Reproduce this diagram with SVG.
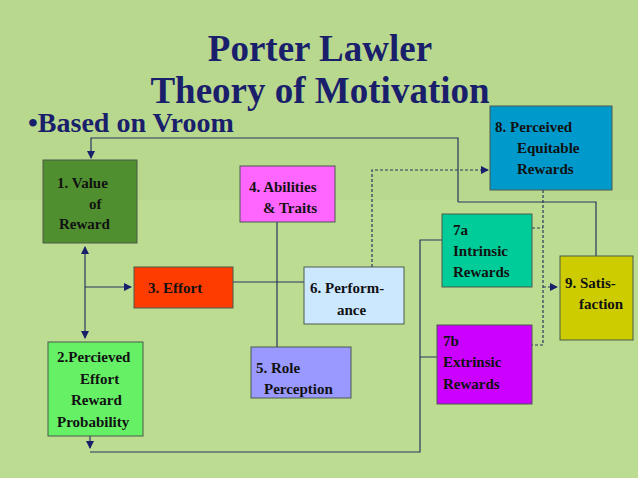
<svg xmlns="http://www.w3.org/2000/svg" width="638" height="478" viewBox="0 0 638 478">
<style>
.t{font-family:"Liberation Serif",serif;font-weight:bold;fill:#1a1f6b}
.n{font-family:"Liberation Serif",serif;font-weight:bold;font-size:15px;fill:#111}
.b{stroke:#4a5a4a;stroke-width:1}
.c{fill:none;stroke:#2a3560;stroke-width:1.2}
.d{fill:none;stroke:#2a3560;stroke-width:1.2;stroke-dasharray:3,2}
</style>
<defs><marker id="a" viewBox="0 0 8 8" refX="7" refY="4" markerWidth="7" markerHeight="7" orient="auto-start-reverse"><path d="M0,0L8,4L0,8z" fill="#1a1f6b"/></marker></defs>
<rect width="638" height="478" fill="#bcdc92"/>
<rect width="638" height="200" fill="#b8d88e"/>
<text class="t" x="320" y="61" font-size="37" text-anchor="middle">Porter Lawler</text>
<text class="t" x="320" y="103" font-size="37" text-anchor="middle">Theory of Motivation</text>
<text class="t" x="28" y="132" font-size="28">•Based on Vroom</text>
<g id="connectors">
<path class="c" d="M458,202V138H91V158" marker-end="url(#a)"/>
<path class="c" d="M458,202H596V256"/>
<path class="c" d="M85,287V247" marker-end="url(#a)"/>
<path class="c" d="M85,287V338" marker-end="url(#a)"/>
<path class="c" d="M85,287H131" marker-end="url(#a)"/>
<path class="c" d="M233,282H304"/>
<path class="c" d="M277,222V347"/>
<path class="d" d="M372,267V170H488" marker-end="url(#a)"/>
<path class="d" d="M543,190V345H532M532,228H543"/>
<path class="d" d="M543,287H557" marker-end="url(#a)"/>
<path class="c" d="M90,436V448" marker-end="url(#a)"/>
<path class="c" d="M90,452H420V240H442M420,357H437"/>
</g>
<g id="n1"><rect class="b" x="43" y="160" width="94" height="83" fill="#4f8f2f"/><text class="n" x="57" y="188">1.  Value</text><text class="n" x="89" y="209">of</text><text class="n" x="59" y="229">Reward</text></g>
<g id="n2"><rect class="b" x="48" y="342" width="95" height="94" fill="#66f066"/><text class="n" x="57" y="362">2.Percieved</text><text class="n" x="80" y="384">Effort</text><text class="n" x="71" y="405">Reward</text><text class="n" x="57" y="427">Probability</text></g>
<g id="n3"><rect class="b" x="134" y="267" width="99" height="41" fill="#ff3c00"/><text class="n" x="148" y="293">3. Effort</text></g>
<g id="n4"><rect class="b" x="240" y="166" width="95" height="56" fill="#ff66ff"/><text class="n" x="249" y="192">4.  Abilities</text><text class="n" x="263" y="213">&amp; Traits</text></g>
<g id="n5"><rect class="b" x="251" y="347" width="100" height="51" fill="#9999ff"/><text class="n" x="256" y="373">5.  Role</text><text class="n" x="264" y="394">Perception</text></g>
<g id="n6"><rect class="b" x="304" y="267" width="100" height="57" fill="#cce8ff"/><text class="n" x="310" y="293">6. Perform-</text><text class="n" x="337" y="315">ance</text></g>
<g id="n7a"><rect class="b" x="442" y="214" width="90" height="73" fill="#00cc99"/><text class="n" x="453" y="235">7a</text><text class="n" x="453" y="256">Intrinsic</text><text class="n" x="453" y="277">Rewards</text></g>
<g id="n7b"><rect class="b" x="437" y="325" width="95" height="79" fill="#cc00ff"/><text class="n" x="443" y="346">7b</text><text class="n" x="443" y="367">Extrinsic</text><text class="n" x="443" y="389">Rewards</text></g>
<g id="n8"><rect class="b" x="490" y="106" width="122" height="84" fill="#0099cc"/><text class="n" x="495" y="132">8.  Perceived</text><text class="n" x="517" y="153">Equitable</text><text class="n" x="517" y="174">Rewards</text></g>
<g id="n9"><rect class="b" x="560" y="256" width="73" height="84" fill="#cccc00"/><text class="n" x="565" y="288">9.  Satis-</text><text class="n" x="579" y="309">faction</text></g>
</svg>
